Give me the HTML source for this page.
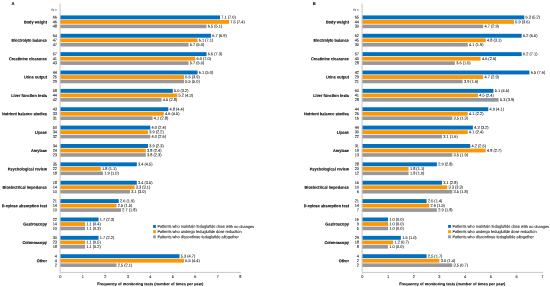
<!DOCTYPE html>
<html><head><meta charset="utf-8"><style>
html,body{margin:0;padding:0;background:#fff;width:550px;height:287px;overflow:hidden}
svg{display:block;will-change:transform}
text{font-family:"Liberation Sans",sans-serif;fill:#000;stroke:#000;stroke-width:0.05px}
.b{font-weight:bold}
.c,.t{stroke-width:0.09px}
</style></head><body>
<svg width="550" height="287" viewBox="0 0 550 287">
<rect width="550" height="287" fill="#fff"/>
<g transform="translate(12.90,5.00) matrix(1.0,0.001,0,1,0,0)"><text class="b" font-size="4.2" text-anchor="middle">A</text></g>
<g transform="translate(57.00,11.05) matrix(0.95,0.001,0,1,0,0)"><text class="r" font-size="4.1" text-anchor="end">n =</text></g>
<g transform="translate(47.00,23.49) matrix(0.95,0.001,0,1,0,0)"><text class="b c" font-size="4.1" text-anchor="end">Body weight</text></g>
<rect x="60.30" y="15.42" width="159.75" height="3.9" fill="#0070c0"/>
<g transform="translate(57.00,18.59) matrix(0.95,0.001,0,1,0,0)"><text class="r" font-size="4.1" text-anchor="end">66</text></g>
<g transform="translate(221.35,18.59) matrix(0.95,0.001,0,1,0,0)"><text class="r" font-size="4.1">7.1 (7.0)</text></g>
<rect x="60.30" y="20.02" width="168.75" height="3.8" fill="#ff9700"/>
<g transform="translate(57.00,23.14) matrix(0.95,0.001,0,1,0,0)"><text class="r" font-size="4.1" text-anchor="end">46</text></g>
<g transform="translate(230.35,23.14) matrix(0.95,0.001,0,1,0,0)"><text class="r" font-size="4.1">7.5 (7.4)</text></g>
<rect x="60.30" y="24.57" width="146.25" height="3.6" fill="#97979c"/>
<g transform="translate(57.00,27.59) matrix(0.95,0.001,0,1,0,0)"><text class="r" font-size="4.1" text-anchor="end">48</text></g>
<g transform="translate(207.85,27.59) matrix(0.95,0.001,0,1,0,0)"><text class="r" font-size="4.1">6.5 (5.1)</text></g>
<g transform="translate(47.00,41.86) matrix(0.95,0.001,0,1,0,0)"><text class="b c" font-size="4.1" text-anchor="end">Electrolyte balance</text></g>
<rect x="60.30" y="33.79" width="150.75" height="3.9" fill="#0070c0"/>
<g transform="translate(57.00,36.96) matrix(0.95,0.001,0,1,0,0)"><text class="r" font-size="4.1" text-anchor="end">64</text></g>
<g transform="translate(212.35,36.96) matrix(0.95,0.001,0,1,0,0)"><text class="r" font-size="4.1">6.7 (6.9)</text></g>
<rect x="60.30" y="38.39" width="137.25" height="3.8" fill="#ff9700"/>
<g transform="translate(57.00,41.51) matrix(0.95,0.001,0,1,0,0)"><text class="r" font-size="4.1" text-anchor="end">47</text></g>
<g transform="translate(198.85,41.51) matrix(0.95,0.001,0,1,0,0)"><text class="r" font-size="4.1">6.1 (7.1)</text></g>
<rect x="60.30" y="42.94" width="128.25" height="3.6" fill="#97979c"/>
<g transform="translate(57.00,45.96) matrix(0.95,0.001,0,1,0,0)"><text class="r" font-size="4.1" text-anchor="end">47</text></g>
<g transform="translate(189.85,45.96) matrix(0.95,0.001,0,1,0,0)"><text class="r" font-size="4.1">5.7 (5.0)</text></g>
<g transform="translate(47.00,60.23) matrix(0.95,0.001,0,1,0,0)"><text class="b c" font-size="4.1" text-anchor="end">Creatinine clearance</text></g>
<rect x="60.30" y="52.16" width="146.25" height="3.9" fill="#0070c0"/>
<g transform="translate(57.00,55.33) matrix(0.95,0.001,0,1,0,0)"><text class="r" font-size="4.1" text-anchor="end">57</text></g>
<g transform="translate(207.85,55.33) matrix(0.95,0.001,0,1,0,0)"><text class="r" font-size="4.1">6.5 (7.3)</text></g>
<rect x="60.30" y="56.76" width="135.00" height="3.8" fill="#ff9700"/>
<g transform="translate(57.00,59.88) matrix(0.95,0.001,0,1,0,0)"><text class="r" font-size="4.1" text-anchor="end">41</text></g>
<g transform="translate(196.60,59.88) matrix(0.95,0.001,0,1,0,0)"><text class="r" font-size="4.1">6.0 (7.0)</text></g>
<rect x="60.30" y="61.31" width="128.25" height="3.6" fill="#97979c"/>
<g transform="translate(57.00,64.33) matrix(0.95,0.001,0,1,0,0)"><text class="r" font-size="4.1" text-anchor="end">43</text></g>
<g transform="translate(189.85,64.33) matrix(0.95,0.001,0,1,0,0)"><text class="r" font-size="4.1">5.7 (5.0)</text></g>
<g transform="translate(47.00,78.60) matrix(0.95,0.001,0,1,0,0)"><text class="b c" font-size="4.1" text-anchor="end">Urine output</text></g>
<rect x="60.30" y="70.53" width="137.25" height="3.9" fill="#0070c0"/>
<g transform="translate(57.00,73.70) matrix(0.95,0.001,0,1,0,0)"><text class="r" font-size="4.1" text-anchor="end">44</text></g>
<g transform="translate(198.85,73.70) matrix(0.95,0.001,0,1,0,0)"><text class="r" font-size="4.1">6.1 (5.0)</text></g>
<rect x="60.30" y="75.13" width="123.75" height="3.8" fill="#ff9700"/>
<g transform="translate(57.00,78.25) matrix(0.95,0.001,0,1,0,0)"><text class="r" font-size="4.1" text-anchor="end">25</text></g>
<g transform="translate(185.35,78.25) matrix(0.95,0.001,0,1,0,0)"><text class="r" font-size="4.1">5.5 (3.9)</text></g>
<rect x="60.30" y="79.68" width="123.75" height="3.6" fill="#97979c"/>
<g transform="translate(57.00,82.70) matrix(0.95,0.001,0,1,0,0)"><text class="r" font-size="4.1" text-anchor="end">29</text></g>
<g transform="translate(185.35,82.70) matrix(0.95,0.001,0,1,0,0)"><text class="r" font-size="4.1">5.5 (5.0)</text></g>
<g transform="translate(47.00,96.97) matrix(0.95,0.001,0,1,0,0)"><text class="b c" font-size="4.1" text-anchor="end">Liver function tests</text></g>
<rect x="60.30" y="88.90" width="112.50" height="3.9" fill="#0070c0"/>
<g transform="translate(57.00,92.07) matrix(0.95,0.001,0,1,0,0)"><text class="r" font-size="4.1" text-anchor="end">58</text></g>
<g transform="translate(174.10,92.07) matrix(0.95,0.001,0,1,0,0)"><text class="r" font-size="4.1">5.0 (3.2)</text></g>
<rect x="60.30" y="93.50" width="117.00" height="3.8" fill="#ff9700"/>
<g transform="translate(57.00,96.62) matrix(0.95,0.001,0,1,0,0)"><text class="r" font-size="4.1" text-anchor="end">44</text></g>
<g transform="translate(178.60,96.62) matrix(0.95,0.001,0,1,0,0)"><text class="r" font-size="4.1">5.2 (4.3)</text></g>
<rect x="60.30" y="98.05" width="101.25" height="3.6" fill="#97979c"/>
<g transform="translate(57.00,101.07) matrix(0.95,0.001,0,1,0,0)"><text class="r" font-size="4.1" text-anchor="end">42</text></g>
<g transform="translate(162.85,101.07) matrix(0.95,0.001,0,1,0,0)"><text class="r" font-size="4.1">4.5 (2.8)</text></g>
<g transform="translate(47.00,115.34) matrix(0.95,0.001,0,1,0,0)"><text class="b c" font-size="4.1" text-anchor="end">Nutrient balance studies</text></g>
<rect x="60.30" y="107.27" width="108.00" height="3.9" fill="#0070c0"/>
<g transform="translate(57.00,110.44) matrix(0.95,0.001,0,1,0,0)"><text class="r" font-size="4.1" text-anchor="end">43</text></g>
<g transform="translate(169.60,110.44) matrix(0.95,0.001,0,1,0,0)"><text class="r" font-size="4.1">4.8 (4.4)</text></g>
<rect x="60.30" y="111.87" width="103.50" height="3.8" fill="#ff9700"/>
<g transform="translate(57.00,114.99) matrix(0.95,0.001,0,1,0,0)"><text class="r" font-size="4.1" text-anchor="end">33</text></g>
<g transform="translate(165.10,114.99) matrix(0.95,0.001,0,1,0,0)"><text class="r" font-size="4.1">4.6 (4.5)</text></g>
<rect x="60.30" y="116.42" width="92.25" height="3.6" fill="#97979c"/>
<g transform="translate(57.00,119.44) matrix(0.95,0.001,0,1,0,0)"><text class="r" font-size="4.1" text-anchor="end">31</text></g>
<g transform="translate(153.85,119.44) matrix(0.95,0.001,0,1,0,0)"><text class="r" font-size="4.1">4.1 (2.8)</text></g>
<g transform="translate(47.00,133.71) matrix(0.95,0.001,0,1,0,0)"><text class="b c" font-size="4.1" text-anchor="end">Lipase</text></g>
<rect x="60.30" y="125.64" width="90.00" height="3.9" fill="#0070c0"/>
<g transform="translate(57.00,128.81) matrix(0.95,0.001,0,1,0,0)"><text class="r" font-size="4.1" text-anchor="end">50</text></g>
<g transform="translate(151.60,128.81) matrix(0.95,0.001,0,1,0,0)"><text class="r" font-size="4.1">4.0 (2.4)</text></g>
<rect x="60.30" y="130.24" width="87.75" height="3.8" fill="#ff9700"/>
<g transform="translate(57.00,133.36) matrix(0.95,0.001,0,1,0,0)"><text class="r" font-size="4.1" text-anchor="end">34</text></g>
<g transform="translate(149.35,133.36) matrix(0.95,0.001,0,1,0,0)"><text class="r" font-size="4.1">3.9 (2.2)</text></g>
<rect x="60.30" y="134.79" width="90.00" height="3.6" fill="#97979c"/>
<g transform="translate(57.00,137.81) matrix(0.95,0.001,0,1,0,0)"><text class="r" font-size="4.1" text-anchor="end">32</text></g>
<g transform="translate(151.60,137.81) matrix(0.95,0.001,0,1,0,0)"><text class="r" font-size="4.1">4.0 (2.6)</text></g>
<g transform="translate(47.00,152.08) matrix(0.95,0.001,0,1,0,0)"><text class="b c" font-size="4.1" text-anchor="end">Amylase</text></g>
<rect x="60.30" y="144.01" width="87.75" height="3.9" fill="#0070c0"/>
<g transform="translate(57.00,147.18) matrix(0.95,0.001,0,1,0,0)"><text class="r" font-size="4.1" text-anchor="end">34</text></g>
<g transform="translate(149.35,147.18) matrix(0.95,0.001,0,1,0,0)"><text class="r" font-size="4.1">3.9 (2.3)</text></g>
<rect x="60.30" y="148.61" width="85.50" height="3.8" fill="#ff9700"/>
<g transform="translate(57.00,151.73) matrix(0.95,0.001,0,1,0,0)"><text class="r" font-size="4.1" text-anchor="end">24</text></g>
<g transform="translate(147.10,151.73) matrix(0.95,0.001,0,1,0,0)"><text class="r" font-size="4.1">3.8 (2.4)</text></g>
<rect x="60.30" y="153.16" width="85.50" height="3.6" fill="#97979c"/>
<g transform="translate(57.00,156.18) matrix(0.95,0.001,0,1,0,0)"><text class="r" font-size="4.1" text-anchor="end">23</text></g>
<g transform="translate(147.10,156.18) matrix(0.95,0.001,0,1,0,0)"><text class="r" font-size="4.1">3.8 (2.3)</text></g>
<g transform="translate(47.00,170.45) matrix(0.95,0.001,0,1,0,0)"><text class="b c" font-size="4.1" text-anchor="end">Psychological review</text></g>
<rect x="60.30" y="162.38" width="76.50" height="3.9" fill="#0070c0"/>
<g transform="translate(57.00,165.55) matrix(0.95,0.001,0,1,0,0)"><text class="r" font-size="4.1" text-anchor="end">35</text></g>
<g transform="translate(138.10,165.55) matrix(0.95,0.001,0,1,0,0)"><text class="r" font-size="4.1">3.4 (4.5)</text></g>
<rect x="60.30" y="166.98" width="40.50" height="3.8" fill="#ff9700"/>
<g transform="translate(57.00,170.10) matrix(0.95,0.001,0,1,0,0)"><text class="r" font-size="4.1" text-anchor="end">22</text></g>
<g transform="translate(102.10,170.10) matrix(0.95,0.001,0,1,0,0)"><text class="r" font-size="4.1">1.8 (1.1)</text></g>
<rect x="60.30" y="171.53" width="42.75" height="3.6" fill="#97979c"/>
<g transform="translate(57.00,174.55) matrix(0.95,0.001,0,1,0,0)"><text class="r" font-size="4.1" text-anchor="end">18</text></g>
<g transform="translate(104.35,174.55) matrix(0.95,0.001,0,1,0,0)"><text class="r" font-size="4.1">1.9 (1.0)</text></g>
<g transform="translate(47.00,188.82) matrix(0.95,0.001,0,1,0,0)"><text class="b c" font-size="4.1" text-anchor="end">Bioelectrical impedance</text></g>
<rect x="60.30" y="180.75" width="76.50" height="3.9" fill="#0070c0"/>
<g transform="translate(57.00,183.92) matrix(0.95,0.001,0,1,0,0)"><text class="r" font-size="4.1" text-anchor="end">18</text></g>
<g transform="translate(138.10,183.92) matrix(0.95,0.001,0,1,0,0)"><text class="r" font-size="4.1">3.4 (3.5)</text></g>
<rect x="60.30" y="185.35" width="74.25" height="3.8" fill="#ff9700"/>
<g transform="translate(57.00,188.47) matrix(0.95,0.001,0,1,0,0)"><text class="r" font-size="4.1" text-anchor="end">14</text></g>
<g transform="translate(135.85,188.47) matrix(0.95,0.001,0,1,0,0)"><text class="r" font-size="4.1">3.3 (3.1)</text></g>
<rect x="60.30" y="189.90" width="69.75" height="3.6" fill="#97979c"/>
<g transform="translate(57.00,192.92) matrix(0.95,0.001,0,1,0,0)"><text class="r" font-size="4.1" text-anchor="end">10</text></g>
<g transform="translate(131.35,192.92) matrix(0.95,0.001,0,1,0,0)"><text class="r" font-size="4.1">3.1 (3.0)</text></g>
<g transform="translate(47.00,207.19) matrix(0.95,0.001,0,1,0,0)"><text class="b c" font-size="4.1" text-anchor="end">D-xylose absorption test</text></g>
<rect x="60.30" y="199.12" width="58.50" height="3.9" fill="#0070c0"/>
<g transform="translate(57.00,202.29) matrix(0.95,0.001,0,1,0,0)"><text class="r" font-size="4.1" text-anchor="end">21</text></g>
<g transform="translate(120.10,202.29) matrix(0.95,0.001,0,1,0,0)"><text class="r" font-size="4.1">2.6 (1.9)</text></g>
<rect x="60.30" y="203.72" width="56.25" height="3.8" fill="#ff9700"/>
<g transform="translate(57.00,206.84) matrix(0.95,0.001,0,1,0,0)"><text class="r" font-size="4.1" text-anchor="end">14</text></g>
<g transform="translate(117.85,206.84) matrix(0.95,0.001,0,1,0,0)"><text class="r" font-size="4.1">2.5 (1.5)</text></g>
<rect x="60.30" y="208.27" width="60.75" height="3.6" fill="#97979c"/>
<g transform="translate(57.00,211.29) matrix(0.95,0.001,0,1,0,0)"><text class="r" font-size="4.1" text-anchor="end">10</text></g>
<g transform="translate(122.35,211.29) matrix(0.95,0.001,0,1,0,0)"><text class="r" font-size="4.1">2.7 (1.8)</text></g>
<g transform="translate(47.00,225.56) matrix(0.95,0.001,0,1,0,0)"><text class="b c" font-size="4.1" text-anchor="end">Gastroscopy</text></g>
<rect x="60.30" y="217.49" width="38.25" height="3.9" fill="#0070c0"/>
<g transform="translate(57.00,220.66) matrix(0.95,0.001,0,1,0,0)"><text class="r" font-size="4.1" text-anchor="end">22</text></g>
<g transform="translate(99.85,220.66) matrix(0.95,0.001,0,1,0,0)"><text class="r" font-size="4.1">1.7 (2.3)</text></g>
<rect x="60.30" y="222.09" width="24.75" height="3.8" fill="#ff9700"/>
<g transform="translate(57.00,225.21) matrix(0.95,0.001,0,1,0,0)"><text class="r" font-size="4.1" text-anchor="end">14</text></g>
<g transform="translate(86.35,225.21) matrix(0.95,0.001,0,1,0,0)"><text class="r" font-size="4.1">1.1 (0.4)</text></g>
<rect x="60.30" y="226.64" width="24.75" height="3.6" fill="#97979c"/>
<g transform="translate(57.00,229.66) matrix(0.95,0.001,0,1,0,0)"><text class="r" font-size="4.1" text-anchor="end">10</text></g>
<g transform="translate(86.35,229.66) matrix(0.95,0.001,0,1,0,0)"><text class="r" font-size="4.1">1.1 (0.3)</text></g>
<g transform="translate(47.00,243.93) matrix(0.95,0.001,0,1,0,0)"><text class="b c" font-size="4.1" text-anchor="end">Colonoscopy</text></g>
<rect x="60.30" y="235.86" width="38.25" height="3.9" fill="#0070c0"/>
<g transform="translate(57.00,239.03) matrix(0.95,0.001,0,1,0,0)"><text class="r" font-size="4.1" text-anchor="end">30</text></g>
<g transform="translate(99.85,239.03) matrix(0.95,0.001,0,1,0,0)"><text class="r" font-size="4.1">1.7 (2.2)</text></g>
<rect x="60.30" y="240.46" width="24.75" height="3.8" fill="#ff9700"/>
<g transform="translate(57.00,243.58) matrix(0.95,0.001,0,1,0,0)"><text class="r" font-size="4.1" text-anchor="end">23</text></g>
<g transform="translate(86.35,243.58) matrix(0.95,0.001,0,1,0,0)"><text class="r" font-size="4.1">1.1 (0.5)</text></g>
<rect x="60.30" y="245.01" width="24.75" height="3.6" fill="#97979c"/>
<g transform="translate(57.00,248.03) matrix(0.95,0.001,0,1,0,0)"><text class="r" font-size="4.1" text-anchor="end">18</text></g>
<g transform="translate(86.35,248.03) matrix(0.95,0.001,0,1,0,0)"><text class="r" font-size="4.1">1.1 (0.2)</text></g>
<g transform="translate(47.00,262.30) matrix(0.95,0.001,0,1,0,0)"><text class="b c" font-size="4.1" text-anchor="end">Other</text></g>
<rect x="60.30" y="254.23" width="119.25" height="3.9" fill="#0070c0"/>
<g transform="translate(57.00,257.40) matrix(0.95,0.001,0,1,0,0)"><text class="r" font-size="4.1" text-anchor="end">4</text></g>
<g transform="translate(180.85,257.40) matrix(0.95,0.001,0,1,0,0)"><text class="r" font-size="4.1">5.3 (4.7)</text></g>
<rect x="60.30" y="258.83" width="123.75" height="3.8" fill="#ff9700"/>
<g transform="translate(57.00,261.95) matrix(0.95,0.001,0,1,0,0)"><text class="r" font-size="4.1" text-anchor="end">4</text></g>
<g transform="translate(185.35,261.95) matrix(0.95,0.001,0,1,0,0)"><text class="r" font-size="4.1">5.5 (4.4)</text></g>
<rect x="60.30" y="263.38" width="56.25" height="3.6" fill="#97979c"/>
<g transform="translate(57.00,266.40) matrix(0.95,0.001,0,1,0,0)"><text class="r" font-size="4.1" text-anchor="end">2</text></g>
<g transform="translate(117.85,266.40) matrix(0.95,0.001,0,1,0,0)"><text class="r" font-size="4.1">2.5 (2.1)</text></g>
<line x1="60.10" y1="3.5" x2="60.10" y2="272.4" stroke="#b4b4b4" stroke-width="0.75"/>
<line x1="60.10" y1="272.4" x2="240.50" y2="272.4" stroke="#b4b4b4" stroke-width="0.75"/>
<line x1="60.30" y1="272.4" x2="60.30" y2="273.4" stroke="#b4b4b4" stroke-width="0.6"/>
<g transform="translate(60.30,278.10) matrix(0.95,0.001,0,1,0,0)"><text class="r" font-size="4.1" text-anchor="middle">0</text></g>
<line x1="82.80" y1="272.4" x2="82.80" y2="273.4" stroke="#b4b4b4" stroke-width="0.6"/>
<g transform="translate(82.80,278.10) matrix(0.95,0.001,0,1,0,0)"><text class="r" font-size="4.1" text-anchor="middle">1</text></g>
<line x1="105.30" y1="272.4" x2="105.30" y2="273.4" stroke="#b4b4b4" stroke-width="0.6"/>
<g transform="translate(105.30,278.10) matrix(0.95,0.001,0,1,0,0)"><text class="r" font-size="4.1" text-anchor="middle">2</text></g>
<line x1="127.80" y1="272.4" x2="127.80" y2="273.4" stroke="#b4b4b4" stroke-width="0.6"/>
<g transform="translate(127.80,278.10) matrix(0.95,0.001,0,1,0,0)"><text class="r" font-size="4.1" text-anchor="middle">3</text></g>
<line x1="150.30" y1="272.4" x2="150.30" y2="273.4" stroke="#b4b4b4" stroke-width="0.6"/>
<g transform="translate(150.30,278.10) matrix(0.95,0.001,0,1,0,0)"><text class="r" font-size="4.1" text-anchor="middle">4</text></g>
<line x1="172.80" y1="272.4" x2="172.80" y2="273.4" stroke="#b4b4b4" stroke-width="0.6"/>
<g transform="translate(172.80,278.10) matrix(0.95,0.001,0,1,0,0)"><text class="r" font-size="4.1" text-anchor="middle">5</text></g>
<line x1="195.30" y1="272.4" x2="195.30" y2="273.4" stroke="#b4b4b4" stroke-width="0.6"/>
<g transform="translate(195.30,278.10) matrix(0.95,0.001,0,1,0,0)"><text class="r" font-size="4.1" text-anchor="middle">6</text></g>
<line x1="217.80" y1="272.4" x2="217.80" y2="273.4" stroke="#b4b4b4" stroke-width="0.6"/>
<g transform="translate(217.80,278.10) matrix(0.95,0.001,0,1,0,0)"><text class="r" font-size="4.1" text-anchor="middle">7</text></g>
<line x1="240.30" y1="272.4" x2="240.30" y2="273.4" stroke="#b4b4b4" stroke-width="0.6"/>
<g transform="translate(240.30,278.10) matrix(0.95,0.001,0,1,0,0)"><text class="r" font-size="4.1" text-anchor="middle">8</text></g>
<g transform="translate(150.30,285.30) matrix(1.0,0.001,0,1,0,0)"><text class="b t" font-size="3.9" text-anchor="middle">Frequency of monitoring tests (number of times per year)</text></g>
<rect x="153.10" y="225.00" width="2.8" height="2.9" fill="#0070c0"/>
<g transform="translate(157.40,227.80) matrix(0.95,0.001,0,1,0,0)"><text class="r" font-size="4.1">Patients who maintain teduglutide dose with no changes</text></g>
<rect x="153.10" y="230.20" width="2.8" height="2.9" fill="#ff9700"/>
<g transform="translate(157.40,233.00) matrix(0.95,0.001,0,1,0,0)"><text class="r" font-size="4.1">Patients who undergo teduglutide dose reduction</text></g>
<rect x="153.10" y="235.40" width="2.8" height="2.9" fill="#97979c"/>
<g transform="translate(157.40,238.20) matrix(0.95,0.001,0,1,0,0)"><text class="r" font-size="4.1">Patients who discontinue teduglutide altogether</text></g>
<g transform="translate(314.30,5.00) matrix(1.0,0.001,0,1,0,0)"><text class="b" font-size="4.2" text-anchor="middle">B</text></g>
<g transform="translate(359.00,11.05) matrix(0.95,0.001,0,1,0,0)"><text class="r" font-size="4.1" text-anchor="end">n =</text></g>
<g transform="translate(349.00,23.49) matrix(0.95,0.001,0,1,0,0)"><text class="b c" font-size="4.1" text-anchor="end">Body weight</text></g>
<rect x="362.30" y="15.42" width="162.00" height="3.9" fill="#0070c0"/>
<g transform="translate(359.00,18.59) matrix(0.95,0.001,0,1,0,0)"><text class="r" font-size="4.1" text-anchor="end">65</text></g>
<g transform="translate(525.60,18.59) matrix(0.95,0.001,0,1,0,0)"><text class="r" font-size="4.1">6.3 (5.2)</text></g>
<rect x="362.30" y="20.02" width="151.71" height="3.8" fill="#ff9700"/>
<g transform="translate(359.00,23.14) matrix(0.95,0.001,0,1,0,0)"><text class="r" font-size="4.1" text-anchor="end">44</text></g>
<g transform="translate(515.31,23.14) matrix(0.95,0.001,0,1,0,0)"><text class="r" font-size="4.1">5.9 (3.6)</text></g>
<rect x="362.30" y="24.57" width="120.86" height="3.6" fill="#97979c"/>
<g transform="translate(359.00,27.59) matrix(0.95,0.001,0,1,0,0)"><text class="r" font-size="4.1" text-anchor="end">30</text></g>
<g transform="translate(484.46,27.59) matrix(0.95,0.001,0,1,0,0)"><text class="r" font-size="4.1">4.7 (2.9)</text></g>
<g transform="translate(349.00,41.86) matrix(0.95,0.001,0,1,0,0)"><text class="b c" font-size="4.1" text-anchor="end">Electrolyte balance</text></g>
<rect x="362.30" y="33.79" width="159.43" height="3.9" fill="#0070c0"/>
<g transform="translate(359.00,36.96) matrix(0.95,0.001,0,1,0,0)"><text class="r" font-size="4.1" text-anchor="end">62</text></g>
<g transform="translate(523.03,36.96) matrix(0.95,0.001,0,1,0,0)"><text class="r" font-size="4.1">6.2 (6.5)</text></g>
<rect x="362.30" y="38.39" width="123.43" height="3.8" fill="#ff9700"/>
<g transform="translate(359.00,41.51) matrix(0.95,0.001,0,1,0,0)"><text class="r" font-size="4.1" text-anchor="end">45</text></g>
<g transform="translate(487.03,41.51) matrix(0.95,0.001,0,1,0,0)"><text class="r" font-size="4.1">4.8 (3.1)</text></g>
<rect x="362.30" y="42.94" width="105.43" height="3.6" fill="#97979c"/>
<g transform="translate(359.00,45.96) matrix(0.95,0.001,0,1,0,0)"><text class="r" font-size="4.1" text-anchor="end">30</text></g>
<g transform="translate(469.03,45.96) matrix(0.95,0.001,0,1,0,0)"><text class="r" font-size="4.1">4.1 (1.9)</text></g>
<g transform="translate(349.00,60.23) matrix(0.95,0.001,0,1,0,0)"><text class="b c" font-size="4.1" text-anchor="end">Creatinine clearance</text></g>
<rect x="362.30" y="52.16" width="159.43" height="3.9" fill="#0070c0"/>
<g transform="translate(359.00,55.33) matrix(0.95,0.001,0,1,0,0)"><text class="r" font-size="4.1" text-anchor="end">57</text></g>
<g transform="translate(523.03,55.33) matrix(0.95,0.001,0,1,0,0)"><text class="r" font-size="4.1">6.2 (7.1)</text></g>
<rect x="362.30" y="56.76" width="118.29" height="3.8" fill="#ff9700"/>
<g transform="translate(359.00,59.88) matrix(0.95,0.001,0,1,0,0)"><text class="r" font-size="4.1" text-anchor="end">40</text></g>
<g transform="translate(481.89,59.88) matrix(0.95,0.001,0,1,0,0)"><text class="r" font-size="4.1">4.6 (2.6)</text></g>
<rect x="362.30" y="61.31" width="92.57" height="3.6" fill="#97979c"/>
<g transform="translate(359.00,64.33) matrix(0.95,0.001,0,1,0,0)"><text class="r" font-size="4.1" text-anchor="end">28</text></g>
<g transform="translate(456.17,64.33) matrix(0.95,0.001,0,1,0,0)"><text class="r" font-size="4.1">3.6 (1.5)</text></g>
<g transform="translate(349.00,78.60) matrix(0.95,0.001,0,1,0,0)"><text class="b c" font-size="4.1" text-anchor="end">Urine output</text></g>
<rect x="362.30" y="70.53" width="167.14" height="3.9" fill="#0070c0"/>
<g transform="translate(359.00,73.70) matrix(0.95,0.001,0,1,0,0)"><text class="r" font-size="4.1" text-anchor="end">42</text></g>
<g transform="translate(530.74,73.70) matrix(0.95,0.001,0,1,0,0)"><text class="r" font-size="4.1">6.5 (7.6)</text></g>
<rect x="362.30" y="75.13" width="120.86" height="3.8" fill="#ff9700"/>
<g transform="translate(359.00,78.25) matrix(0.95,0.001,0,1,0,0)"><text class="r" font-size="4.1" text-anchor="end">29</text></g>
<g transform="translate(484.46,78.25) matrix(0.95,0.001,0,1,0,0)"><text class="r" font-size="4.1">4.7 (2.9)</text></g>
<rect x="362.30" y="79.68" width="100.29" height="3.6" fill="#97979c"/>
<g transform="translate(359.00,82.70) matrix(0.95,0.001,0,1,0,0)"><text class="r" font-size="4.1" text-anchor="end">21</text></g>
<g transform="translate(463.89,82.70) matrix(0.95,0.001,0,1,0,0)"><text class="r" font-size="4.1">3.9 (1.6)</text></g>
<g transform="translate(349.00,96.97) matrix(0.95,0.001,0,1,0,0)"><text class="b c" font-size="4.1" text-anchor="end">Liver function tests</text></g>
<rect x="362.30" y="88.90" width="131.14" height="3.9" fill="#0070c0"/>
<g transform="translate(359.00,92.07) matrix(0.95,0.001,0,1,0,0)"><text class="r" font-size="4.1" text-anchor="end">60</text></g>
<g transform="translate(494.74,92.07) matrix(0.95,0.001,0,1,0,0)"><text class="r" font-size="4.1">5.1 (4.5)</text></g>
<rect x="362.30" y="93.50" width="115.71" height="3.8" fill="#ff9700"/>
<g transform="translate(359.00,96.62) matrix(0.95,0.001,0,1,0,0)"><text class="r" font-size="4.1" text-anchor="end">41</text></g>
<g transform="translate(479.31,96.62) matrix(0.95,0.001,0,1,0,0)"><text class="r" font-size="4.1">4.5 (2.4)</text></g>
<rect x="362.30" y="98.05" width="136.29" height="3.6" fill="#97979c"/>
<g transform="translate(359.00,101.07) matrix(0.95,0.001,0,1,0,0)"><text class="r" font-size="4.1" text-anchor="end">28</text></g>
<g transform="translate(499.89,101.07) matrix(0.95,0.001,0,1,0,0)"><text class="r" font-size="4.1">5.3 (3.9)</text></g>
<g transform="translate(349.00,115.34) matrix(0.95,0.001,0,1,0,0)"><text class="b c" font-size="4.1" text-anchor="end">Nutrient balance studies</text></g>
<rect x="362.30" y="107.27" width="126.00" height="3.9" fill="#0070c0"/>
<g transform="translate(359.00,110.44) matrix(0.95,0.001,0,1,0,0)"><text class="r" font-size="4.1" text-anchor="end">44</text></g>
<g transform="translate(489.60,110.44) matrix(0.95,0.001,0,1,0,0)"><text class="r" font-size="4.1">4.9 (4.1)</text></g>
<rect x="362.30" y="111.87" width="105.43" height="3.8" fill="#ff9700"/>
<g transform="translate(359.00,114.99) matrix(0.95,0.001,0,1,0,0)"><text class="r" font-size="4.1" text-anchor="end">26</text></g>
<g transform="translate(469.03,114.99) matrix(0.95,0.001,0,1,0,0)"><text class="r" font-size="4.1">4.1 (2.2)</text></g>
<rect x="362.30" y="116.42" width="90.00" height="3.6" fill="#97979c"/>
<g transform="translate(359.00,119.44) matrix(0.95,0.001,0,1,0,0)"><text class="r" font-size="4.1" text-anchor="end">16</text></g>
<g transform="translate(453.60,119.44) matrix(0.95,0.001,0,1,0,0)"><text class="r" font-size="4.1">3.5 (1.3)</text></g>
<g transform="translate(349.00,133.71) matrix(0.95,0.001,0,1,0,0)"><text class="b c" font-size="4.1" text-anchor="end">Lipase</text></g>
<rect x="362.30" y="125.64" width="110.57" height="3.9" fill="#0070c0"/>
<g transform="translate(359.00,128.81) matrix(0.95,0.001,0,1,0,0)"><text class="r" font-size="4.1" text-anchor="end">44</text></g>
<g transform="translate(474.17,128.81) matrix(0.95,0.001,0,1,0,0)"><text class="r" font-size="4.1">4.3 (3.2)</text></g>
<rect x="362.30" y="130.24" width="105.43" height="3.8" fill="#ff9700"/>
<g transform="translate(359.00,133.36) matrix(0.95,0.001,0,1,0,0)"><text class="r" font-size="4.1" text-anchor="end">30</text></g>
<g transform="translate(469.03,133.36) matrix(0.95,0.001,0,1,0,0)"><text class="r" font-size="4.1">4.1 (2.4)</text></g>
<rect x="362.30" y="134.79" width="79.71" height="3.6" fill="#97979c"/>
<g transform="translate(359.00,137.81) matrix(0.95,0.001,0,1,0,0)"><text class="r" font-size="4.1" text-anchor="end">22</text></g>
<g transform="translate(443.31,137.81) matrix(0.95,0.001,0,1,0,0)"><text class="r" font-size="4.1">3.1 (1.6)</text></g>
<g transform="translate(349.00,152.08) matrix(0.95,0.001,0,1,0,0)"><text class="b c" font-size="4.1" text-anchor="end">Amylase</text></g>
<rect x="362.30" y="144.01" width="108.00" height="3.9" fill="#0070c0"/>
<g transform="translate(359.00,147.18) matrix(0.95,0.001,0,1,0,0)"><text class="r" font-size="4.1" text-anchor="end">31</text></g>
<g transform="translate(471.60,147.18) matrix(0.95,0.001,0,1,0,0)"><text class="r" font-size="4.1">4.2 (2.5)</text></g>
<rect x="362.30" y="148.61" width="123.43" height="3.8" fill="#ff9700"/>
<g transform="translate(359.00,151.73) matrix(0.95,0.001,0,1,0,0)"><text class="r" font-size="4.1" text-anchor="end">19</text></g>
<g transform="translate(487.03,151.73) matrix(0.95,0.001,0,1,0,0)"><text class="r" font-size="4.1">4.8 (2.7)</text></g>
<rect x="362.30" y="153.16" width="90.00" height="3.6" fill="#97979c"/>
<g transform="translate(359.00,156.18) matrix(0.95,0.001,0,1,0,0)"><text class="r" font-size="4.1" text-anchor="end">13</text></g>
<g transform="translate(453.60,156.18) matrix(0.95,0.001,0,1,0,0)"><text class="r" font-size="4.1">3.5 (1.9)</text></g>
<g transform="translate(349.00,170.45) matrix(0.95,0.001,0,1,0,0)"><text class="b c" font-size="4.1" text-anchor="end">Psychological review</text></g>
<rect x="362.30" y="162.38" width="74.57" height="3.9" fill="#0070c0"/>
<g transform="translate(359.00,165.55) matrix(0.95,0.001,0,1,0,0)"><text class="r" font-size="4.1" text-anchor="end">28</text></g>
<g transform="translate(438.17,165.55) matrix(0.95,0.001,0,1,0,0)"><text class="r" font-size="4.1">2.9 (2.8)</text></g>
<rect x="362.30" y="166.98" width="46.29" height="3.8" fill="#ff9700"/>
<g transform="translate(359.00,170.10) matrix(0.95,0.001,0,1,0,0)"><text class="r" font-size="4.1" text-anchor="end">20</text></g>
<g transform="translate(409.89,170.10) matrix(0.95,0.001,0,1,0,0)"><text class="r" font-size="4.1">1.8 (1.1)</text></g>
<rect x="362.30" y="171.53" width="46.29" height="3.6" fill="#97979c"/>
<g transform="translate(359.00,174.55) matrix(0.95,0.001,0,1,0,0)"><text class="r" font-size="4.1" text-anchor="end">12</text></g>
<g transform="translate(409.89,174.55) matrix(0.95,0.001,0,1,0,0)"><text class="r" font-size="4.1">1.8 (1.0)</text></g>
<g transform="translate(349.00,188.82) matrix(0.95,0.001,0,1,0,0)"><text class="b c" font-size="4.1" text-anchor="end">Bioelectrical impedance</text></g>
<rect x="362.30" y="180.75" width="79.71" height="3.9" fill="#0070c0"/>
<g transform="translate(359.00,183.92) matrix(0.95,0.001,0,1,0,0)"><text class="r" font-size="4.1" text-anchor="end">16</text></g>
<g transform="translate(443.31,183.92) matrix(0.95,0.001,0,1,0,0)"><text class="r" font-size="4.1">3.1 (2.8)</text></g>
<rect x="362.30" y="185.35" width="84.86" height="3.8" fill="#ff9700"/>
<g transform="translate(359.00,188.47) matrix(0.95,0.001,0,1,0,0)"><text class="r" font-size="4.1" text-anchor="end">10</text></g>
<g transform="translate(448.46,188.47) matrix(0.95,0.001,0,1,0,0)"><text class="r" font-size="4.1">3.3 (3.3)</text></g>
<rect x="362.30" y="189.90" width="90.00" height="3.6" fill="#97979c"/>
<g transform="translate(359.00,192.92) matrix(0.95,0.001,0,1,0,0)"><text class="r" font-size="4.1" text-anchor="end">6</text></g>
<g transform="translate(453.60,192.92) matrix(0.95,0.001,0,1,0,0)"><text class="r" font-size="4.1">3.5 (1.8)</text></g>
<g transform="translate(349.00,207.19) matrix(0.95,0.001,0,1,0,0)"><text class="b c" font-size="4.1" text-anchor="end">D-xylose absorption test</text></g>
<rect x="362.30" y="199.12" width="64.29" height="3.9" fill="#0070c0"/>
<g transform="translate(359.00,202.29) matrix(0.95,0.001,0,1,0,0)"><text class="r" font-size="4.1" text-anchor="end">21</text></g>
<g transform="translate(427.89,202.29) matrix(0.95,0.001,0,1,0,0)"><text class="r" font-size="4.1">2.5 (1.4)</text></g>
<rect x="362.30" y="203.72" width="66.86" height="3.8" fill="#ff9700"/>
<g transform="translate(359.00,206.84) matrix(0.95,0.001,0,1,0,0)"><text class="r" font-size="4.1" text-anchor="end">14</text></g>
<g transform="translate(430.46,206.84) matrix(0.95,0.001,0,1,0,0)"><text class="r" font-size="4.1">2.6 (1.5)</text></g>
<rect x="362.30" y="208.27" width="74.57" height="3.6" fill="#97979c"/>
<g transform="translate(359.00,211.29) matrix(0.95,0.001,0,1,0,0)"><text class="r" font-size="4.1" text-anchor="end">7</text></g>
<g transform="translate(438.17,211.29) matrix(0.95,0.001,0,1,0,0)"><text class="r" font-size="4.1">2.9 (1.8)</text></g>
<g transform="translate(349.00,225.56) matrix(0.95,0.001,0,1,0,0)"><text class="b c" font-size="4.1" text-anchor="end">Gastroscopy</text></g>
<rect x="362.30" y="217.49" width="25.71" height="3.9" fill="#0070c0"/>
<g transform="translate(359.00,220.66) matrix(0.95,0.001,0,1,0,0)"><text class="r" font-size="4.1" text-anchor="end">16</text></g>
<g transform="translate(389.31,220.66) matrix(0.95,0.001,0,1,0,0)"><text class="r" font-size="4.1">1.0 (0.0)</text></g>
<rect x="362.30" y="222.09" width="25.71" height="3.8" fill="#ff9700"/>
<g transform="translate(359.00,225.21) matrix(0.95,0.001,0,1,0,0)"><text class="r" font-size="4.1" text-anchor="end">9</text></g>
<g transform="translate(389.31,225.21) matrix(0.95,0.001,0,1,0,0)"><text class="r" font-size="4.1">1.0 (0.0)</text></g>
<rect x="362.30" y="226.64" width="25.71" height="3.6" fill="#97979c"/>
<g transform="translate(359.00,229.66) matrix(0.95,0.001,0,1,0,0)"><text class="r" font-size="4.1" text-anchor="end">5</text></g>
<g transform="translate(389.31,229.66) matrix(0.95,0.001,0,1,0,0)"><text class="r" font-size="4.1">1.0 (0.0)</text></g>
<g transform="translate(349.00,243.93) matrix(0.95,0.001,0,1,0,0)"><text class="b c" font-size="4.1" text-anchor="end">Colonoscopy</text></g>
<rect x="362.30" y="235.86" width="38.57" height="3.9" fill="#0070c0"/>
<g transform="translate(359.00,239.03) matrix(0.95,0.001,0,1,0,0)"><text class="r" font-size="4.1" text-anchor="end">29</text></g>
<g transform="translate(402.17,239.03) matrix(0.95,0.001,0,1,0,0)"><text class="r" font-size="4.1">1.5 (1.0)</text></g>
<rect x="362.30" y="240.46" width="30.86" height="3.8" fill="#ff9700"/>
<g transform="translate(359.00,243.58) matrix(0.95,0.001,0,1,0,0)"><text class="r" font-size="4.1" text-anchor="end">18</text></g>
<g transform="translate(394.46,243.58) matrix(0.95,0.001,0,1,0,0)"><text class="r" font-size="4.1">1.2 (0.7)</text></g>
<rect x="362.30" y="245.01" width="25.71" height="3.6" fill="#97979c"/>
<g transform="translate(359.00,248.03) matrix(0.95,0.001,0,1,0,0)"><text class="r" font-size="4.1" text-anchor="end">8</text></g>
<g transform="translate(389.31,248.03) matrix(0.95,0.001,0,1,0,0)"><text class="r" font-size="4.1">1.0 (0.0)</text></g>
<g transform="translate(349.00,262.30) matrix(0.95,0.001,0,1,0,0)"><text class="b c" font-size="4.1" text-anchor="end">Other</text></g>
<rect x="362.30" y="254.23" width="64.29" height="3.9" fill="#0070c0"/>
<g transform="translate(359.00,257.40) matrix(0.95,0.001,0,1,0,0)"><text class="r" font-size="4.1" text-anchor="end">4</text></g>
<g transform="translate(427.89,257.40) matrix(0.95,0.001,0,1,0,0)"><text class="r" font-size="4.1">2.5 (1.7)</text></g>
<rect x="362.30" y="258.83" width="77.14" height="3.8" fill="#ff9700"/>
<g transform="translate(359.00,261.95) matrix(0.95,0.001,0,1,0,0)"><text class="r" font-size="4.1" text-anchor="end">2</text></g>
<g transform="translate(440.74,261.95) matrix(0.95,0.001,0,1,0,0)"><text class="r" font-size="4.1">3.0 (1.4)</text></g>
<rect x="362.30" y="263.38" width="90.00" height="3.6" fill="#97979c"/>
<g transform="translate(359.00,266.40) matrix(0.95,0.001,0,1,0,0)"><text class="r" font-size="4.1" text-anchor="end">2</text></g>
<g transform="translate(453.60,266.40) matrix(0.95,0.001,0,1,0,0)"><text class="r" font-size="4.1">3.5 (0.7)</text></g>
<line x1="362.10" y1="3.5" x2="362.10" y2="272.4" stroke="#b4b4b4" stroke-width="0.75"/>
<line x1="362.10" y1="272.4" x2="542.50" y2="272.4" stroke="#b4b4b4" stroke-width="0.75"/>
<line x1="362.30" y1="272.4" x2="362.30" y2="273.4" stroke="#b4b4b4" stroke-width="0.6"/>
<g transform="translate(362.30,278.10) matrix(0.95,0.001,0,1,0,0)"><text class="r" font-size="4.1" text-anchor="middle">0</text></g>
<line x1="388.01" y1="272.4" x2="388.01" y2="273.4" stroke="#b4b4b4" stroke-width="0.6"/>
<g transform="translate(388.01,278.10) matrix(0.95,0.001,0,1,0,0)"><text class="r" font-size="4.1" text-anchor="middle">1</text></g>
<line x1="413.73" y1="272.4" x2="413.73" y2="273.4" stroke="#b4b4b4" stroke-width="0.6"/>
<g transform="translate(413.73,278.10) matrix(0.95,0.001,0,1,0,0)"><text class="r" font-size="4.1" text-anchor="middle">2</text></g>
<line x1="439.44" y1="272.4" x2="439.44" y2="273.4" stroke="#b4b4b4" stroke-width="0.6"/>
<g transform="translate(439.44,278.10) matrix(0.95,0.001,0,1,0,0)"><text class="r" font-size="4.1" text-anchor="middle">3</text></g>
<line x1="465.16" y1="272.4" x2="465.16" y2="273.4" stroke="#b4b4b4" stroke-width="0.6"/>
<g transform="translate(465.16,278.10) matrix(0.95,0.001,0,1,0,0)"><text class="r" font-size="4.1" text-anchor="middle">4</text></g>
<line x1="490.87" y1="272.4" x2="490.87" y2="273.4" stroke="#b4b4b4" stroke-width="0.6"/>
<g transform="translate(490.87,278.10) matrix(0.95,0.001,0,1,0,0)"><text class="r" font-size="4.1" text-anchor="middle">5</text></g>
<line x1="516.59" y1="272.4" x2="516.59" y2="273.4" stroke="#b4b4b4" stroke-width="0.6"/>
<g transform="translate(516.59,278.10) matrix(0.95,0.001,0,1,0,0)"><text class="r" font-size="4.1" text-anchor="middle">6</text></g>
<line x1="542.30" y1="272.4" x2="542.30" y2="273.4" stroke="#b4b4b4" stroke-width="0.6"/>
<g transform="translate(542.30,278.10) matrix(0.95,0.001,0,1,0,0)"><text class="r" font-size="4.1" text-anchor="middle">7</text></g>
<g transform="translate(452.30,285.30) matrix(1.0,0.001,0,1,0,0)"><text class="b t" font-size="3.9" text-anchor="middle">Frequency of monitoring tests (number of times per year)</text></g>
<rect x="448.10" y="225.00" width="2.8" height="2.9" fill="#0070c0"/>
<g transform="translate(452.40,227.80) matrix(0.95,0.001,0,1,0,0)"><text class="r" font-size="4.1">Patients who maintain teduglutide dose with no changes</text></g>
<rect x="448.10" y="230.20" width="2.8" height="2.9" fill="#ff9700"/>
<g transform="translate(452.40,233.00) matrix(0.95,0.001,0,1,0,0)"><text class="r" font-size="4.1">Patients who undergo teduglutide dose reduction</text></g>
<rect x="448.10" y="235.40" width="2.8" height="2.9" fill="#97979c"/>
<g transform="translate(452.40,238.20) matrix(0.95,0.001,0,1,0,0)"><text class="r" font-size="4.1">Patients who discontinue teduglutide altogether</text></g>
</svg>
</body></html>
